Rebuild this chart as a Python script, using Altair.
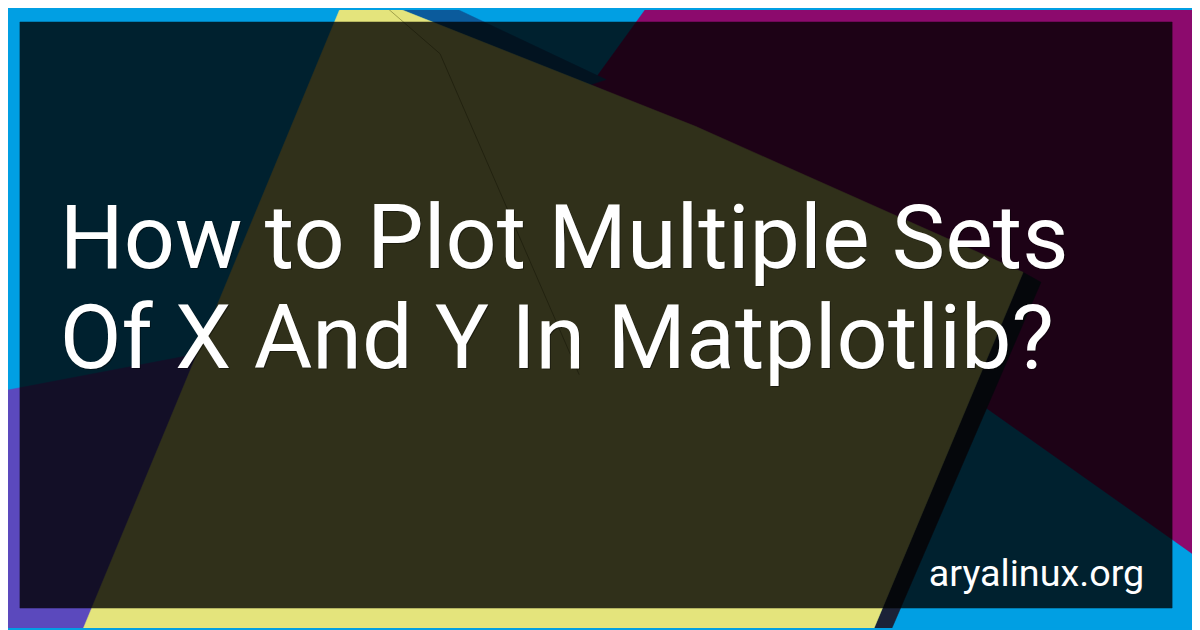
import altair as alt
import pandas as pd

# ---- shapes of the background picture (image pixel coordinates) ----
bg_x = [0, 1200, 1200, 0]
bg_y = [0, 0, 630, 630]
violet_x = [0, 420, 420, 0]
violet_y = [392, 312, 630, 630]
magenta_x = [655, 1200, 1200, 985, 1030, 595]
magenta_y = [0, 0, 555, 403, 272, 83]
shadow_top_x = [385, 445, 610, 595]
shadow_top_y = [0, 0, 78, 83]
shadow_right_x = [1030, 1048, 898, 880]
shadow_right_y = [272, 282, 630, 630]
yellow_x = [345, 385, 700, 1030, 880, 84]
yellow_y = [0, 0, 125, 272, 630, 630]
fold_x = [383, 443, 583]
fold_y = [0, 52, 375]
overlay_x = [20, 1180, 1180, 20]
overlay_y = [20, 20, 610, 610]

# ---- texts ----
title_lines = ["How to Plot Multiple Sets", "Of X And Y In Matplotlib?"]
title_x = [60, 60]
title_y = [268, 368]
site_text = ["aryalinux.org"]
site_x = [1152]
site_y = [588]

X_SCALE = alt.Scale(domain=[8, 1200], nice=False, zero=False)
Y_SCALE = alt.Scale(domain=[8, 630], nice=False, zero=False, reverse=True)


def poly(xs, ys, color, opacity=1.0):
    df = pd.DataFrame({
        "x": xs + [xs[0]],
        "y": ys + [ys[0]],
        "o": list(range(len(xs) + 1)),
    })
    return alt.Chart(df).mark_line(
        fill=color, stroke=color, strokeWidth=0.5, interpolate="linear",
        opacity=opacity, clip=True,
    ).encode(
        x=alt.X("x:Q", scale=X_SCALE, axis=None),
        y=alt.Y("y:Q", scale=Y_SCALE, axis=None),
        order="o:Q",
    )


def polyline(xs, ys, color, width):
    df = pd.DataFrame({"x": xs, "y": ys, "o": list(range(len(xs)))})
    return alt.Chart(df).mark_line(
        stroke=color, strokeWidth=width, clip=True
    ).encode(
        x=alt.X("x:Q", scale=X_SCALE, axis=None),
        y=alt.Y("y:Q", scale=Y_SCALE, axis=None),
        order="o:Q",
    )


def texts(xs, ys, labels, size, align, color, dx=0, dy=0, opacity=1.0):
    df = pd.DataFrame({"x": xs, "y": ys, "t": labels})
    return alt.Chart(df).mark_text(
        font="Roboto", fontSize=size, align=align, baseline="alphabetic",
        color=color, dx=dx, dy=dy, opacity=opacity,
    ).encode(
        x=alt.X("x:Q", scale=X_SCALE, axis=None),
        y=alt.Y("y:Q", scale=Y_SCALE, axis=None),
        text="t:N",
    )


layers = [
    poly(bg_x, bg_y, "#019fe3"),
    poly(violet_x, violet_y, "#5b49bd"),
    poly(magenta_x, magenta_y, "#8c0a6d"),
    poly(shadow_top_x, shadow_top_y, "#0b5b9c"),
    poly(shadow_right_x, shadow_right_y, "#1b2238"),
    poly(yellow_x, yellow_y, "#e4e47c"),
    polyline(fold_x, fold_y, "#a0a04a", 1.0),
    poly(overlay_x, overlay_y, "#000000", opacity=0.79),
    texts(title_x, title_y, title_lines, 90.5, "left", "#000000", dx=1, dy=1, opacity=0.4),
    texts(title_x, title_y, title_lines, 90.5, "left", "#ffffff"),
    texts(site_x, site_y, site_text, 38, "right", "#ffffff"),
]

chart = alt.layer(*layers).properties(
    width=1192, height=622,
    padding=0,
    autosize=alt.AutoSizeParams(type="none"),
    background="#019fe3",
).configure_view(stroke=None, strokeWidth=0)

chart.save("out.html", embed_options={"renderer": "svg", "actions": False})
